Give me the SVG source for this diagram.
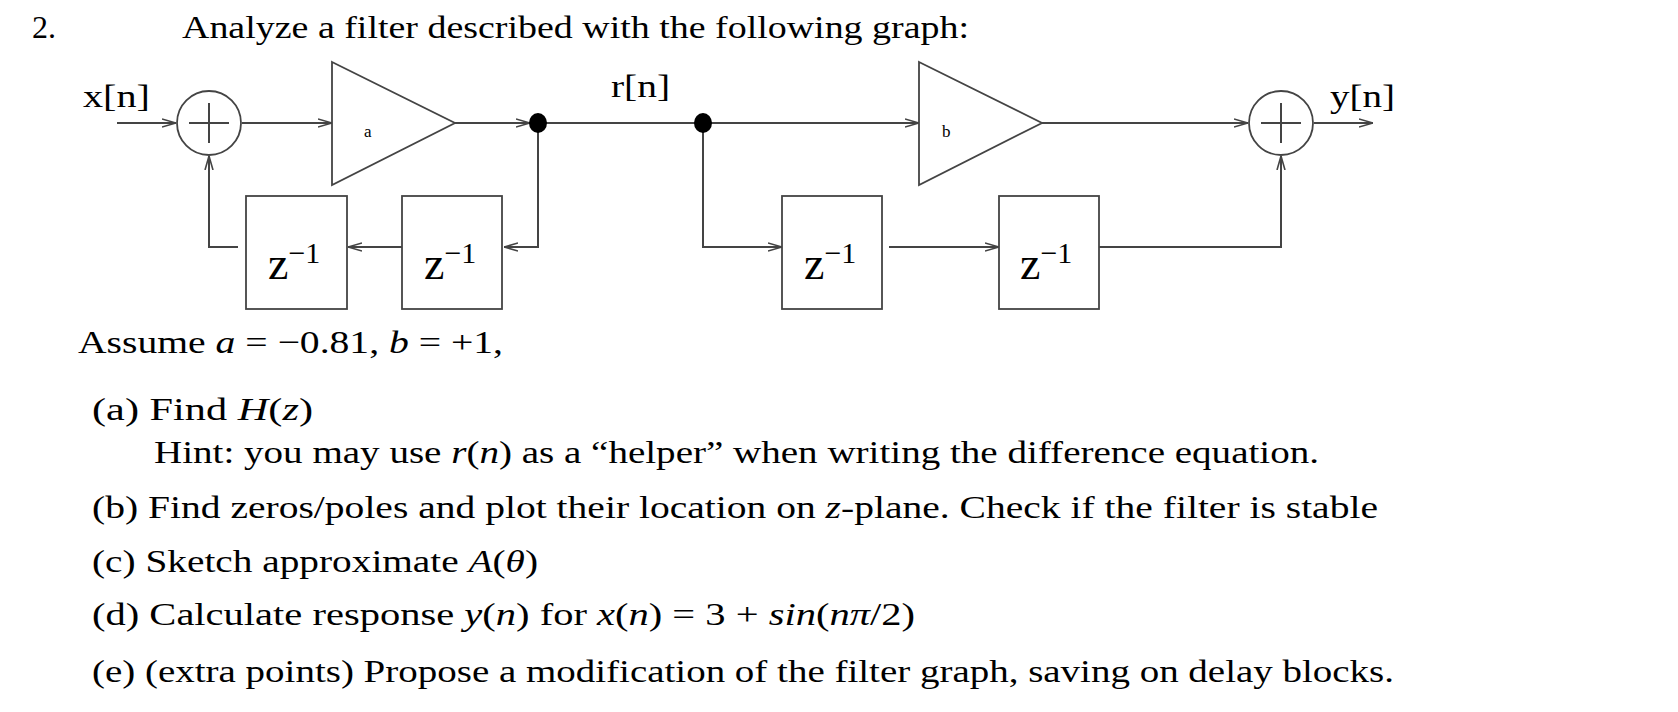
<svg xmlns="http://www.w3.org/2000/svg" width="1678" height="712" viewBox="0 0 1678 712">
<style>
text{font-family:"Liberation Serif","Times New Roman",serif;fill:#000}
.t{font-size:32px}
.lbl{font-size:31px}
.g{font-size:17px}
.z{font-size:46px}
.s{font-size:30px}
.ln{fill:none;stroke:#444;stroke-width:2}
.sh{fill:#fff;stroke:#444;stroke-width:1.8}
.i{font-style:italic}
</style>
<defs>
<marker id="ar" viewBox="0 0 14 10" refX="14" refY="5" markerWidth="14" markerHeight="10" markerUnits="userSpaceOnUse" orient="auto">
<path d="M0,1 L14,5 L0,9" fill="none" stroke="#444" stroke-width="1.6"/>
</marker>
</defs>
<text class="t" x="32" y="38">2.</text>
<text class="t" x="182" y="38" textLength="787" lengthAdjust="spacingAndGlyphs">Analyze a filter described with the following graph:</text>

<g id="connectors">
<path class="ln" d="M117,123 H176" marker-end="url(#ar)"/>
<path class="ln" d="M242,123 H332" marker-end="url(#ar)"/>
<path class="ln" d="M455,123 H530" marker-end="url(#ar)"/>
<path class="ln" d="M538,123 H919" marker-end="url(#ar)"/>
<path class="ln" d="M1042,123 H1248" marker-end="url(#ar)"/>
<path class="ln" d="M1314,123 H1373" marker-end="url(#ar)"/>
<path class="ln" d="M538,123 V247 H504" marker-end="url(#ar)"/>
<path class="ln" d="M404,247 H348" marker-end="url(#ar)"/>
<path class="ln" d="M238,247 H209 V156" marker-end="url(#ar)"/>
<path class="ln" d="M703,123 V247 H782" marker-end="url(#ar)"/>
<path class="ln" d="M889,247 H999" marker-end="url(#ar)"/>
<path class="ln" d="M1096,247 H1281 V156" marker-end="url(#ar)"/>
</g>

<g id="x_label"><text class="lbl" x="83" y="107" textLength="67" lengthAdjust="spacingAndGlyphs">x[n]</text></g>
<g id="r_label"><text class="lbl" x="611" y="97" textLength="59" lengthAdjust="spacingAndGlyphs">r[n]</text></g>
<g id="y_label"><text class="lbl" x="1330" y="107" textLength="65" lengthAdjust="spacingAndGlyphs">y[n]</text></g>

<g id="sum1"><circle class="sh" cx="209" cy="123" r="32"/><path class="ln" d="M189,123 H229 M209,103 V143"/></g>
<g id="sum2"><circle class="sh" cx="1281" cy="123" r="32"/><path class="ln" d="M1261,123 H1301 M1281,103 V143"/></g>
<g id="gain_a"><path class="sh" d="M332,62 L455,123 L332,185 Z"/><text class="g" x="364" y="137">a</text></g>
<g id="gain_b"><path class="sh" d="M919,62 L1042,123 L919,185 Z"/><text class="g" x="942" y="137">b</text></g>
<g id="dot1"><ellipse cx="538" cy="123" rx="9" ry="10" fill="#000"/></g>
<g id="dot2"><ellipse cx="703" cy="123" rx="9" ry="10" fill="#000"/></g>

<g id="delay1"><rect class="sh" x="246" y="196" width="101" height="113"/><text class="z" x="268" y="279">z<tspan class="s" dy="-16">−1</tspan></text></g>
<g id="delay2"><rect class="sh" x="402" y="196" width="100" height="113"/><text class="z" x="424" y="279">z<tspan class="s" dy="-16">−1</tspan></text></g>
<g id="delay3"><rect class="sh" x="782" y="196" width="100" height="113"/><text class="z" x="804" y="279">z<tspan class="s" dy="-16">−1</tspan></text></g>
<g id="delay4"><rect class="sh" x="999" y="196" width="100" height="113"/><text class="z" x="1020" y="279">z<tspan class="s" dy="-16">−1</tspan></text></g>

<text class="t" x="78" y="353" textLength="425" lengthAdjust="spacingAndGlyphs">Assume <tspan class="i">a</tspan> = −0.81, <tspan class="i">b</tspan> = +1,</text>
<text class="t" x="92" y="420" textLength="221" lengthAdjust="spacingAndGlyphs">(a) Find <tspan class="i">H</tspan>(<tspan class="i">z</tspan>)</text>
<text class="t" x="154" y="463" textLength="1165" lengthAdjust="spacingAndGlyphs">Hint: you may use <tspan class="i">r</tspan>(<tspan class="i">n</tspan>) as a “helper” when writing the difference equation.</text>
<text class="t" x="92" y="518" textLength="1286" lengthAdjust="spacingAndGlyphs">(b) Find zeros/poles and plot their location on <tspan class="i">z</tspan>-plane. Check if the filter is stable</text>
<text class="t" x="92" y="572" textLength="446" lengthAdjust="spacingAndGlyphs">(c) Sketch approximate <tspan class="i">A</tspan>(<tspan class="i">θ</tspan>)</text>
<text class="t" x="92" y="625" textLength="823" lengthAdjust="spacingAndGlyphs">(d) Calculate response <tspan class="i">y</tspan>(<tspan class="i">n</tspan>) for <tspan class="i">x</tspan>(<tspan class="i">n</tspan>) = 3 + <tspan class="i">sin</tspan>(<tspan class="i">nπ</tspan>/2)</text>
<text class="t" x="92" y="682" textLength="1302" lengthAdjust="spacingAndGlyphs">(e) (extra points) Propose a modification of the filter graph, saving on delay blocks.</text>
</svg>
